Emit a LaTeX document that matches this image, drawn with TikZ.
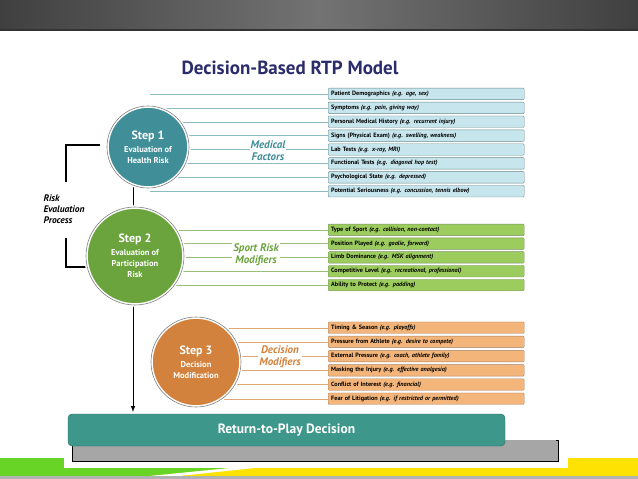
\documentclass[tikz,border=0pt]{standalone}
\usepackage{fontspec}
\setmainfont{PT Sans}
\begin{document}
\begin{tikzpicture}[x=1pt,y=-1pt,
 rowb/.style={draw=#1!60!black!70, rounded corners=1pt, minimum width=196, minimum height=11.5, inner sep=0, anchor=west, text width=190, align=left, font=\fontsize{6.2}{7}\selectfont\bfseries},
 circ/.style={circle, draw=white, line width=1.5pt, text=white, align=center, font=\fontsize{8.5}{11}\selectfont\bfseries},
 lbl/.style={fill=white, inner sep=1pt, align=center, font=\fontsize{11}{12}\selectfont\bfseries\itshape}]
\definecolor{tealc}{HTML}{3F8E98}
\definecolor{greenc}{HTML}{6BA43C}
\definecolor{orangec}{HTML}{D2823C}
\definecolor{lblue}{HTML}{C7E5EC}
\definecolor{lgreen}{HTML}{9CCB5E}
\definecolor{lorange}{HTML}{F3B57A}
\definecolor{navy}{HTML}{2B2C6C}
\definecolor{rtp}{HTML}{3E978B}
\useasboundingbox (0,0) rectangle (638,479);
% top bar
\shade[left color=black!75, right color=black!75, middle color=black!55] (0,0) rectangle (638,30);
\fill[black!80] (0,29) rectangle (638,31);
% bottom band
\fill[yellow!85!orange] (0,458) rectangle (638,479);
\fill[green!50!lime!80!black!85] (0,458) -- (330,458) -- (120,479) -- (0,479) -- cycle;
\fill[white] (330,458) -- (350,458) -- (150,479) -- (120,479) -- cycle;
\fill[black!30] (0,476) rectangle (638,479);
% frame under return box
\fill[white] (64,440) rectangle (568,468);
\draw[black, line width=0.8pt, fill=black!35] (72,440) rectangle (558,461);
\fill[black!35] (74,440) rectangle (556,457);
% title
\node[text=navy, font=\fontsize{19}{20}\selectfont\bfseries] (title) at (290,68) {Decision-Based RTP Model};
% rows
\foreach \t [count=\i] in {{Patient Demographics \textit{(e.g. age, sex)}},{Symptoms \textit{(e.g. pain, giving way)}},{Personal Medical History \textit{(e.g. recurrent injury)}},{Signs (Physical Exam) \textit{(e.g. swelling, weakness)}},{Lab Tests \textit{(e.g. x-ray, MRI)}},{Functional Tests \textit{(e.g. diagonal hop test)}},{Psychological State \textit{(e.g. depressed)}},{Potential Seriousness \textit{(e.g. concussion, tennis elbow)}}}{
 \draw[tealc!60, line width=0.4pt] (150,{80+13.9*\i}) -- (328,{80+13.9*\i});
 \node[rowb=tealc, fill=lblue] (b\i) at (328,{80+13.9*\i}) {\t};}
\foreach \t [count=\i] in {{Type of Sport \textit{(e.g. collision, non-contact)}},{Position Played \textit{(e.g. goalie, forward)}},{Limb Dominance \textit{(e.g. MSK alignment)}},{Competitive Level \textit{(e.g. recreational, professional)}},{Ability to Protect \textit{(e.g. padding)}}}{
 \draw[greenc!70, line width=0.4pt] (140,{216+13.8*\i}) -- (328,{216+13.8*\i});
 \node[rowb=greenc, fill=lgreen] (g\i) at (328,{216+13.8*\i}) {\t};}
\foreach \t [count=\i] in {{Timing \& Season \textit{(e.g. playoffs)}},{Pressure from Athlete \textit{(e.g. desire to compete)}},{External Pressure \textit{(e.g. coach, athlete family)}},{Masking the Injury \textit{(e.g. effective analgesia)}},{Conflict of Interest \textit{(e.g. financial)}},{Fear of Litigation \textit{(e.g. if restricted or permitted)}}}{
 \draw[orangec!70, line width=0.4pt] (200,{313.5+14.2*\i}) -- (328,{313.5+14.2*\i});
 \node[rowb=orangec, fill=lorange] (o\i) at (328,{313.5+14.2*\i}) {\t};}
% labels
\node[lbl, text=tealc] (mf) at (268,151) {Medical\\Factors};
\node[lbl, text=greenc] (sr) at (256,255) {Sport Risk\\Modifiers};
\node[lbl, text=orangec] (dm) at (280,357) {Decision\\Modifiers};
% bracket
\node[font=\fontsize{9.5}{11}\selectfont\bfseries\itshape, align=left, anchor=west] (rep) at (40,209) {Risk\\Evaluation\\Process};
\draw[line width=1.2pt] (100,145) -- (66,145) -- (66,182);
\draw[line width=1.2pt] (66,238) -- (66,267) -- (100,267);
% arrows
\coordinate (a1) at (133,185);
\draw[line width=1pt, -latex] (133,180) -- (133,212);
\draw[line width=1pt, -latex] (133,290) -- (133,412);
% circles
\node[circ, fill=tealc, draw=white, minimum size=82, double=black!50] (c1) at (148,147) {{\fontsize{12}{14}\selectfont Step 1}\\[2pt]Evaluation of\\Health Risk};
\node[circ, fill=greenc, minimum size=98, double=black!50] (c2) at (135,256) {{\fontsize{12}{14}\selectfont Step 2}\\[2pt]Evaluation of\\Participation\\Risk};
\node[circ, fill=orangec, minimum size=90, double=black!50] (c3) at (196,362) {{\fontsize{12}{14}\selectfont Step 3}\\[2pt]Decision\\Modification};
% return box
\node[fill=rtp, draw=rtp!70!black, rounded corners=4pt, minimum width=437, minimum height=32, text=white, font=\fontsize{13.5}{15}\selectfont\bfseries] (rtpb) at (286.5,430) {Return-to-Play Decision};
\end{tikzpicture}
\end{document}
